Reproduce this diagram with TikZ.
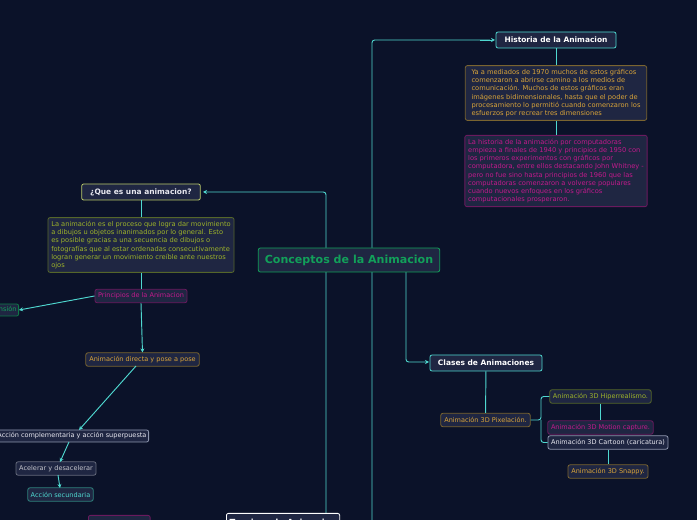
\documentclass[tikz,border=0pt]{standalone}
\usepackage{fontspec}
\setmainfont{DejaVu Sans}
\usetikzlibrary{arrows.meta}
\definecolor{bg}{HTML}{0B1229}
\definecolor{nf}{HTML}{1F2642}
\definecolor{ln}{HTML}{4FD8D0}
\definecolor{cor}{HTML}{D9A43A}
\definecolor{cmg}{HTML}{C21A8C}
\definecolor{col}{HTML}{9DB32A}
\definecolor{cgr}{HTML}{12A05A}
\definecolor{cwh}{HTML}{E8E8F0}
\definecolor{bor}{HTML}{7A6430}
\definecolor{bmg}{HTML}{6A1A5E}
\definecolor{bol}{HTML}{55662A}
\definecolor{bgr}{HTML}{0F7A48}
\definecolor{bwh}{HTML}{9098B0}
\tikzset{
 box/.style={draw, fill=nf, rounded corners=1.5pt, line width=0.6pt, inner sep=1.6pt, font=\fontsize{4.9}{6}\selectfont, anchor=center},
 para/.style={box, align=left, inner sep=2.5pt, font=\fontsize{5}{6.2}\selectfont},
 con/.style={draw=ln, line width=0.7pt},
 arr/.style={con, -{Stealth[length=3pt,width=3pt]}},
}
\begin{document}
\begin{tikzpicture}[x=0.75pt,y=-0.75pt]
\fill[bg] (0,0) rectangle (697,520);
\clip (0,0) rectangle (697,520);
% long trunks
\draw[con] (372,520) -- (372,46) [rounded corners=2pt] -- (372,40) -- (490,40);
\draw[con,-{Stealth[length=3pt,width=3pt]}] (326,520) -- (326,198) [rounded corners=2pt] -- (326,192) -- (203,192);
\draw[arr,rounded corners=2pt] (406,272) -- (406,362) -- (429,362);
\draw[arr] (480,40) -- (495,40);
% nodes
\node[box,draw=ln,text=white,font=\fontsize{5.6}{6.5}\bfseries\selectfont,minimum width=90pt,minimum height=12pt] (hist) at (556,40) {Historia de la Animacion};
\node[para,draw=bor,text=cor,minimum width=136pt,minimum height=39pt] (ya) at (556,93) {Ya a mediados de 1970 muchos de estos gráficos\\comenzaron a abrirse camino a los medios de\\comunicación. Muchos de estos gráficos eran\\imágenes bidimensionales, hasta que el poder de\\procesamiento lo permitió cuando comenzaron los\\esfuerzos por recrear tres dimensiones};
\node[para,draw=bmg,text=cmg,minimum width=136pt,minimum height=51pt] (lah) at (556,171) {La historia de la animación por computadoras\\empieza a finales de 1940 y principios de 1950 con\\los primeros experimentos con gráficos por\\computadora, entre ellos destacando John Whitney -\\pero no fue sino hasta principios de 1960 que las\\computadoras comenzaron a volverse populares\\cuando nuevos enfoques en los gráficos\\computacionales prosperaron.};
\node[box,draw=cgr,fill=nf,text=cgr,font=\fontsize{8.3}{9}\bfseries\selectfont,minimum width=136pt,minimum height=18pt] (conc) at (349,260) {Conceptos de la Animacion};
\node[box,draw=col!70!white,text=cwh,font=\fontsize{5.6}{6.5}\bfseries\selectfont,minimum width=89pt,minimum height=12pt] (que) at (141,192) {¿Que es una animacion?};
\node[para,draw=bol,text=col,minimum width=136pt,minimum height=40pt] (lan) at (141,245) {La animación es el proceso que logra dar movimiento\\a dibujos u objetos inanimados por lo general. Esto\\es posible gracias a una secuencia de dibujos o\\fotografías que al estar ordenadas consecutivamente\\logran generar un movimiento creíble ante nuestros\\ojos};
\node[box,draw=bmg,text=cmg,minimum width=69pt,minimum height=10pt] (prin) at (141,296) {Principios de la Animacion};
\node[box,draw=bgr,text=cgr,anchor=east,minimum height=9pt] (ten) at (19,310) {Compresión y extensión};
\node[box,draw=bor,text=cor,minimum width=85pt,minimum height=10pt] (dir) at (142.5,359.5) {Animación directa y pose a pose};
\node[box,draw=bwh,text=cwh,anchor=east,minimum height=9pt] (comp) at (149,436) {Acción complementaria y acción superpuesta};
\node[box,draw=bwh!70!black,text=cwh!85!black,minimum width=60pt,minimum height=10pt] (acel) at (56,468.5) {Acelerar y desacelerar};
\node[box,draw=ln!60!black,text=ln,minimum width=49pt,minimum height=10pt] (sec) at (60.5,494.5) {Acción secundaria};
\node[box,draw=bmg,text=cmg,anchor=north west,minimum width=36pt,minimum height=12pt] (stag) at (88,515) {Puesta en escena};
\node[box,draw=white,text=white,anchor=north west,font=\fontsize{6.3}{7}\bfseries\selectfont,minimum width=85pt,minimum height=14pt,text depth=0pt] (tec) at (226,513) {Tecnicas de Animacion};
\node[box,draw=ln,text=white,font=\fontsize{5.6}{6.5}\bfseries\selectfont,minimum width=84pt,minimum height=12pt] (cla) at (486,363) {Clases de Animaciones};
\node[box,draw=bor,text=cor,minimum width=67pt,minimum height=10pt] (pix) at (485.5,420) {Animación 3D Pixelación.};
\node[box,draw=bol,text=col,minimum width=76pt,minimum height=10pt] (hip) at (600.5,396.5) {Animación 3D Hiperrealismo.};
\node[box,draw=bmg,text=cmg,minimum width=79pt,minimum height=10pt] (mot) at (600.5,427.5) {Animación 3D Motion capture.};
\node[box,draw=bwh,text=cwh,minimum width=90pt,minimum height=10pt] (car) at (608,442.5) {Animación 3D Cartoon (caricatura)};
\node[box,draw=bor,text=cor,minimum width=60pt,minimum height=10pt] (snp) at (608,471.5) {Animación 3D Snappy.};
% connectors
\draw[con] (hist) -- (ya);
\draw[con] (ya) -- (lah);
\draw[con] (que) -- (lan);
\draw[con] (lan) -- (prin);
\draw[arr] (prin.west) -- (ten.east);
\draw[arr] (prin.south) -- (dir.north);
\draw[arr] (136,366) -- (79,430);
\draw[arr] (69,442) -- (60,462);
\draw[arr] (58,475) -- (60,488);
\draw[con] (cla) -- (pix);
\draw[con,rounded corners=2pt] (pix.east) -- (541,420) |- (hip.west);
\draw[con,rounded corners=2pt] (541,420) |- (car.west);
\draw[con] (hip) -- (mot);
\draw[con] (car) -- (snp);
\end{tikzpicture}
\end{document}
